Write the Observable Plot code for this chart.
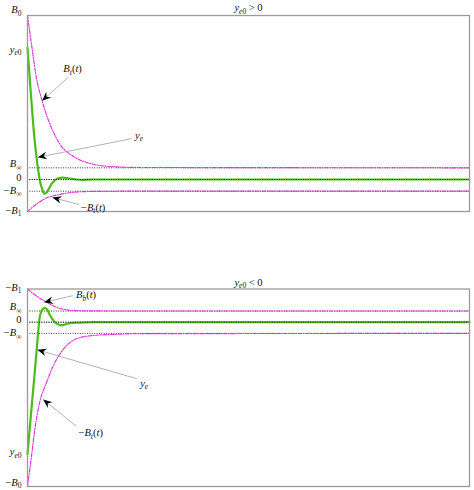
<!DOCTYPE html>
<html>
<head>
<meta charset="utf-8">
<script src="https://cdn.jsdelivr.net/npm/d3@7"></script>
<script src="https://cdn.jsdelivr.net/npm/@observablehq/plot@0.6"></script>
<style>
  html, body { margin: 0; padding: 0; background: #fff; }
  svg { display: block; }
</style>
</head>
<body>
<div id="chart"></div>
<script>
// ---------- data ----------
const T_MAX = 20;
const Binf = 1;

// top panel: y_e0 > 0
const topB0 = 14.04, topB1 = 2.74, topYe0 = 11.26;
const topUpperT = [0, 0.21, 0.375, 0.66, 1.09, 1.46, 2.14, 2.9, 3.8, 5, 20];
const topUpperV = [topB0, 11.2, 9.0, 6.75, 4.4, 3.05, 1.91, 1.34, 1.11, 1.03, 1.0];
const topLowerT = [0, 0.33, 0.78, 1.39, 2.14, 3, 4.5, 20];
const topLowerV = [-topB1, -2.22, -1.65, -1.31, -1.08, -1.02, -1.0, -1.0];
const topYeT = [0, 0.1, 0.21, 0.31, 0.41, 0.5, 0.56, 0.65, 0.76, 0.85, 0.95, 1.09, 1.25, 1.39, 1.58, 1.8, 1.99, 2.2, 2.44, 3, 20];
const topYeV = [topYe0, 8.7, 5.9, 3.6, 1.9, 0.6, -0.08, -0.75, -1.22, -1.15, -0.85, -0.37, -0.05, 0.11, 0.16, 0.12, 0.05, 0.0, -0.03, 0, 0];
const topTickVals = [topB0, topYe0, Binf, 0, -Binf, -topB1];
const topTickLabels = ["B_0", "y_{e0}", "B_∞", "0", "−B_∞", "−B_1"];
const topNoteLabels = ["B_t(t)", "y_e", "−B_t(t)"];
const topNoteAt = [[2.04, 9.46], [5.05, 3.76], [2.97, -2.37]];
const topNoteFrom = [[1.84, 8.74], [4.72, 3.5], [2.33, -2.14]];
const topNoteTip = [[0.66, 6.75], [0.47, 1.9], [1.13, -1.55]];

// bottom panel: y_e0 < 0
const botB0 = 14.7, botB1 = 2.97, botYe0 = -11.8;
const botUpperT = [0, 0.33, 0.78, 1.39, 2.14, 3, 4.5, 20];
const botUpperV = [botB1, 2.45, 1.88, 1.28, 1.04, 1.01, 1.0, 1.0];
const botLowerT = [0, 0.18, 0.33, 0.56, 0.86, 1.16, 1.61, 2.14, 2.9, 3.8, 5, 20];
const botLowerV = [-botB0, -12.0, -9.6, -7.1, -5.4, -3.93, -2.45, -1.55, -1.2, -1.1, -1.03, -1.0];
const botYeT = [0, 0.15, 0.3, 0.41, 0.56, 0.66, 0.78, 0.9, 1.0, 1.12, 1.24, 1.4, 1.54, 1.7, 1.84, 2.05, 2.29, 3, 20];
const botYeV = [botYe0, -8.4, -5.1, -2.6, 0.54, 1.1, 1.28, 1.1, 0.68, 0.3, 0.0, -0.2, -0.27, -0.2, -0.12, -0.06, -0.04, 0, 0];
const botTickVals = [botB1, Binf, 0, -Binf, botYe0, -botB0];
const botTickLabels = ["−B_1", "B_∞", "0", "−B_∞", "y_{e0}", "−B_0"];
const botNoteLabels = ["B_b(t)", "y_e", "−B_t(t)"];
const botNoteAt = [[2.65, 2.44], [5.28, -5.48], [2.86, -9.9]];
const botNoteFrom = [[2.04, 2.37], [4.95, -5.06], [2.2, -9.3]];
const botNoteTip = [[0.75, 1.78], [0.45, -2.47], [0.71, -6.91]];

// ---------- styles ----------
const MAGENTA = "#e030e0";
const GREEN = "#4dbb1c";
const FONT = "'Liberation Serif', 'DejaVu Serif', serif";
const topNudge = {"B_0": -5.5, "y_{e0}": 1.5, "B_∞": -4, "0": -1.5, "−B_∞": -0.5, "−B_1": -1};
const botNudge = {"−B_1": -1.7, "B_∞": -4, "0": -3, "−B_∞": -0.5, "y_{e0}": -2, "−B_0": -4};

const pts = (ts, vs) => ts.map((t, i) => ({t, v: vs[i]}));
const notes = (labels, at, from, tip) => labels.map((s, i) => ({
  s, x: at[i][0], y: at[i][1], x1: from[i][0], y1: from[i][1], x2: tip[i][0], y2: tip[i][1]
}));

function mathify(node) {
  const s = node.textContent;
  if (!/[A-Za-z_]/.test(s)) return;
  node.textContent = "";
  const runs = [];
  const pushChars = (str, sub) => {
    for (const ch of str) {
      const it = /[A-Za-z]/.test(ch);
      const last = runs[runs.length - 1];
      if (last && last.sub === sub && last.italic === it) last.text += ch;
      else runs.push({text: ch, sub, italic: it});
    }
  };
  let i = 0;
  while (i < s.length) {
    if (s[i] === "_") {
      if (s[i + 1] === "{") { const j = s.indexOf("}", i); pushChars(s.slice(i + 2, j), true); i = j + 1; }
      else { pushChars(s[i + 1], true); i += 2; }
    } else { pushChars(s[i], false); i++; }
  }
  let inSub = false;
  for (const r of runs) {
    const t = document.createElementNS("http://www.w3.org/2000/svg", "tspan");
    t.textContent = r.text;
    if (r.italic) t.setAttribute("font-style", "italic");
    if (r.sub) { t.setAttribute("font-size", "7.5"); if (!inSub) t.setAttribute("dy", "2.4"); }
    else if (inSub) t.setAttribute("dy", "-2.4");
    inSub = r.sub;
    node.appendChild(t);
  }
}

function panel(cfg, id) {
  const dotted = {stroke: "#222", strokeWidth: 0.9, strokeDasharray: "1,1.4"};
  const dashdot = {x: "t", y: "v", stroke: MAGENTA, strokeWidth: 1.15, strokeDasharray: "3.5,1.5,1,1.5", curve: "monotone-x"};
  const ticks = cfg.tickVals.map((v, i) => ({v, s: cfg.tickLabels[i]}));
  const svg = Plot.plot({
    width: 474, height: cfg.height,
    marginLeft: 27, marginRight: 5, marginTop: cfg.marginTop, marginBottom: cfg.marginBottom,
    x: {domain: [0, T_MAX], axis: null},
    y: {domain: cfg.yDomain, axis: null},
    style: {fontFamily: FONT, fontSize: "10.5px", background: "#fff", color: "#111"},
    marks: [
      Plot.ruleY([Binf, 0, -Binf], dotted),
      Plot.line(cfg.upper, dashdot),
      Plot.line(cfg.lower, dashdot),
      Plot.line(cfg.ye, {x: "t", y: "v", stroke: GREEN, strokeWidth: 2.2, curve: "monotone-x"}),
      Plot.ruleY([0], dotted),
      Plot.frame({stroke: "#9a9a9a", strokeWidth: 1.3}),
      Plot.link(cfg.notes, {x1: "x1", y1: "y1", x2: "x2", y2: "y2", stroke: "#a0a0a0", strokeWidth: 0.8}),
      Plot.text(cfg.notes, {x: "x", y: "y", text: "s", fill: "#111", fontSize: 10.5}),
      ...ticks.map(d => Plot.text([d], {x: 0, y: "v", text: "s", textAnchor: "end", dx: -6, dy: cfg.nudge[d.s] || 0, fill: "#111", fontSize: 10.5})),
      Plot.text([cfg.title], {frameAnchor: "top", lineAnchor: "middle", dy: cfg.titleDy, text: d => d, fill: "#111", fontSize: 10.5})
    ]
  });
  const root = d3.select(svg);
  const defs = root.append("defs");
  defs.append("marker")
    .attr("id", id).attr("viewBox", "-10 -5 12 10").attr("refX", 0).attr("refY", 0)
    .attr("markerWidth", 12).attr("markerHeight", 10)
    .attr("markerUnits", "userSpaceOnUse").attr("orient", "auto")
    .append("path").attr("d", "M0,0 L-9,-3.8 L-6,0 L-9,3.8 Z").attr("fill", "#000");
  root.selectAll('g[aria-label="link"] path').attr("marker-end", `url(#${id})`);
  root.selectAll("text").each(function() { mathify(this); });
  return svg;
}

const chart = document.getElementById("chart");
chart.appendChild(panel({
  title: "y_{e0} > 0", titleDy: -7.4,
  height: 245, marginTop: 15, marginBottom: 34,
  yDomain: [-topB1, topB0],
  upper: pts(topUpperT, topUpperV), lower: pts(topLowerT, topLowerV), ye: pts(topYeT, topYeV),
  tickVals: topTickVals, tickLabels: topTickLabels, nudge: topNudge,
  notes: notes(topNoteLabels, topNoteAt, topNoteFrom, topNoteTip)
}, "headTop"));
chart.appendChild(panel({
  title: "y_{e0} < 0", titleDy: -6.5,
  height: 245, marginTop: 43.5, marginBottom: 4,
  yDomain: [-botB0, botB1],
  upper: pts(botUpperT, botUpperV), lower: pts(botLowerT, botLowerV), ye: pts(botYeT, botYeV),
  tickVals: botTickVals, tickLabels: botTickLabels, nudge: botNudge,
  notes: notes(botNoteLabels, botNoteAt, botNoteFrom, botNoteTip)
}, "headBot"));
</script>
</body>
</html>
